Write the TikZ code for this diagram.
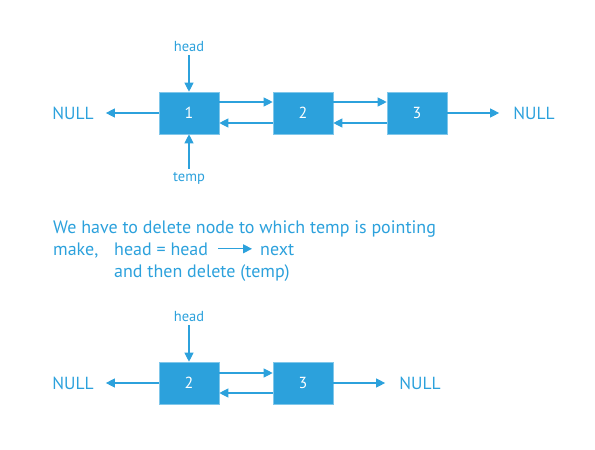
\documentclass[tikz,border=0pt]{standalone}
\usepackage{fontspec}
\setmainfont{PT Sans}
\usetikzlibrary{arrows.meta}
\definecolor{lnkblue}{HTML}{2CA1DC}

\begin{document}
\begin{tikzpicture}[
  x=1pt, y=-1pt,
  >={Triangle[length=9pt,width=9pt]},
  lnode/.style={rectangle, fill=lnkblue, draw=lnkblue!60!white, line width=0.6pt, minimum width=60pt, minimum height=42pt, inner sep=0pt, text=white, font={\fontsize{16}{18}\selectfont}},
  lnkedge/.style={->, draw=lnkblue, line width=1.1pt},
  nulltxt/.style={text=lnkblue, inner sep=0pt, font={\fontsize{17.5}{19}\selectfont}},
  ptrtxt/.style={text=lnkblue, inner sep=0pt, font={\fontsize{14.5}{16}\selectfont}},
  msgtxt/.style={anchor=base west, text=lnkblue, inner sep=0pt, font={\fontsize{18}{20}\selectfont}}
]
\useasboundingbox (0,0) rectangle (595,450);
% list before deletion
\node[lnode] (a1) at (189,113) {1};
\node[lnode] (a2) at (303,113) {2};
\node[lnode] (a3) at (417,113) {3};
\node[nulltxt] (anl) at (73,113) {NULL};
\node[nulltxt] (anr) at (534,113) {NULL};
\node[ptrtxt] (ahead) at (189,47) {head};
\node[ptrtxt] (atemp) at (189,178) {temp};
\draw[lnkedge] (a1) -- (anl.east) [shorten >=12pt];
\draw[lnkedge] (a3) -- (anr.west) [shorten >=14pt];
\draw[lnkedge] ([yshift=11pt]a1.east) -- ([yshift=11pt]a2.west);
\draw[lnkedge] ([yshift=-10pt]a2.west) -- ([yshift=-10pt]a1.east);
\draw[lnkedge] ([yshift=11pt]a2.east) -- ([yshift=11pt]a3.west);
\draw[lnkedge] ([yshift=-10pt]a3.west) -- ([yshift=-10pt]a2.east);
\draw[lnkedge, shorten <=3pt] (ahead) -- (a1.north);
\draw[lnkedge, shorten <=3pt] (atemp) -- (a1.south);
% explanation
\node[msgtxt] (msg1) at (53,233) {We have to delete node to which temp is pointing};
\node[msgtxt] (msg2) at (53,255) {make,};
\node[msgtxt] (hh) at (114,255) {head = head};
\node[msgtxt] (nx) at (260,255) {next};
\node[msgtxt] (msg3) at (114,277) {and then delete (temp)};
\draw[lnkedge, shorten <=10pt, shorten >=8pt] (hh.east) -- (nx.west |- hh.east);
% list after deletion
\node[lnode] (b2) at (189,383) {2};
\node[lnode] (b3) at (303,383) {3};
\node[nulltxt] (bnl) at (73,383) {NULL};
\node[nulltxt] (bnr) at (420,383) {NULL};
\node[ptrtxt] (bhead) at (189,317) {head};
\draw[lnkedge] (b2) -- (bnl.east) [shorten >=12pt];
\draw[lnkedge] (b3) -- (bnr.west) [shorten >=14pt];
\draw[lnkedge] ([yshift=10pt]b2.east) -- ([yshift=10pt]b3.west);
\draw[lnkedge] ([yshift=-10pt]b3.west) -- ([yshift=-10pt]b2.east);
\draw[lnkedge, shorten <=3pt] (bhead) -- (b2.north);
\end{tikzpicture}
\end{document}
